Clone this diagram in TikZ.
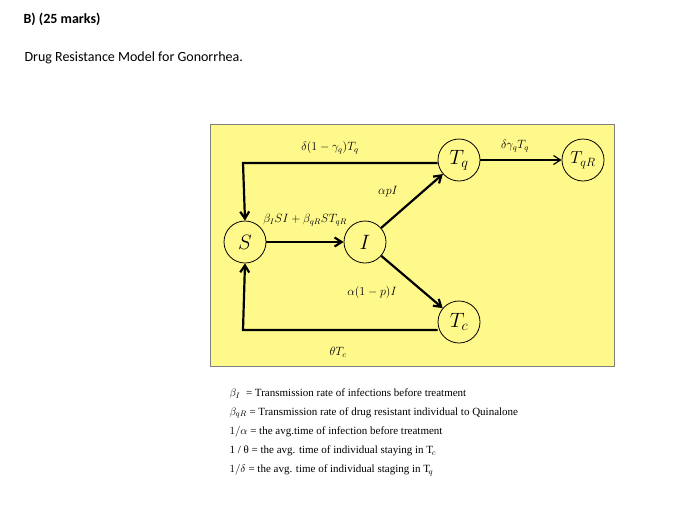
\documentclass[tikz,border=0pt]{standalone}
\usepackage{fontspec}
\setmainfont{Liberation Serif}
\newfontfamily\hdr{Carlito}
\usetikzlibrary{arrows.meta}
\begin{document}
\begin{tikzpicture}[x=1pt,y=-1pt,
  st/.style={circle,draw,thick,minimum size=42pt,inner sep=0pt,font=\fontsize{22}{24}\selectfont},
  fl/.style={line width=2.2pt,-{Straight Barb[length=7pt,width=9pt]}},
  lb/.style={font=\fontsize{12}{14}\selectfont},
  lg/.style={anchor=west,font=\fontsize{11}{13}\selectfont}]
\useasboundingbox (0,0) rectangle (677,517);
\node[anchor=west,font=\hdr\bfseries\fontsize{14}{16}\selectfont] (h1) at (20,19) {B) (25 marks)};
\node[anchor=west,font=\hdr\fontsize{14}{16}\selectfont] (h2) at (21,58) {Drug Resistance Model for Gonorrhea.};
\node[draw=gray,fill=yellow!45,minimum width=404pt,minimum height=242pt,anchor=north west] (bx) at (210,124) {};
\node[st] (S) at (245,242) {$S$};
\node[st] (I) at (365,242) {$I$};
\node[st] (Tq) at (459,160) {$T_q$};
\node[st,font=\fontsize{17}{19}\selectfont] (TqR) at (583,160) {$T_{qR}$};
\node[st] (Tc) at (459,322) {$T_c$};
\coordinate (c1) at (243,163);
\coordinate (c2) at (243,330);
\draw[fl] (Tq.west|-c1) -- (c1) -- (S.north);
\draw[fl] (Tc.west|-c2) -- (c2) -- (S.south);
\draw[fl] (S) -- (I);
\draw[fl] (I) -- (Tq);
\draw[fl] (I) -- (Tc);
\draw[-{Straight Barb[length=7pt,width=9pt]},line width=1.2pt] (Tq) -- (TqR);
\node[lb] (l1) at (330,148) {$\delta(1-\gamma_q)T_q$};
\node[lb] (l2) at (515,146) {$\delta\gamma_q T_q$};
\node[lb] (l3) at (388,192) {$\alpha p I$};
\node[lb] (l4) at (305,220) {$\beta_I SI+\beta_{qR}ST_{qR}$};
\node[lb] (l5) at (372,292) {$\alpha(1-p)I$};
\node[lb] (l6) at (338,352) {$\theta T_c$};
\node[lg] (g1) at (226,394) {$\beta_I$\ \ = Transmission rate of infections before treatment};
\node[lg] (g2) at (226,413) {$\beta_{qR}$ = Transmission rate of drug resistant individual to Quinalone};
\node[lg] (g3) at (226,432) {$1/\alpha$ = the avg.time of infection before treatment};
\node[lg] (g4) at (226,451) {1 / θ = the avg. time of individual staying in T$_{\!c}$};
\node[lg] (g5) at (226,470) {$1/\delta$ = the avg. time of individual staging in T$_{\!q}$};
\end{tikzpicture}
\end{document}
